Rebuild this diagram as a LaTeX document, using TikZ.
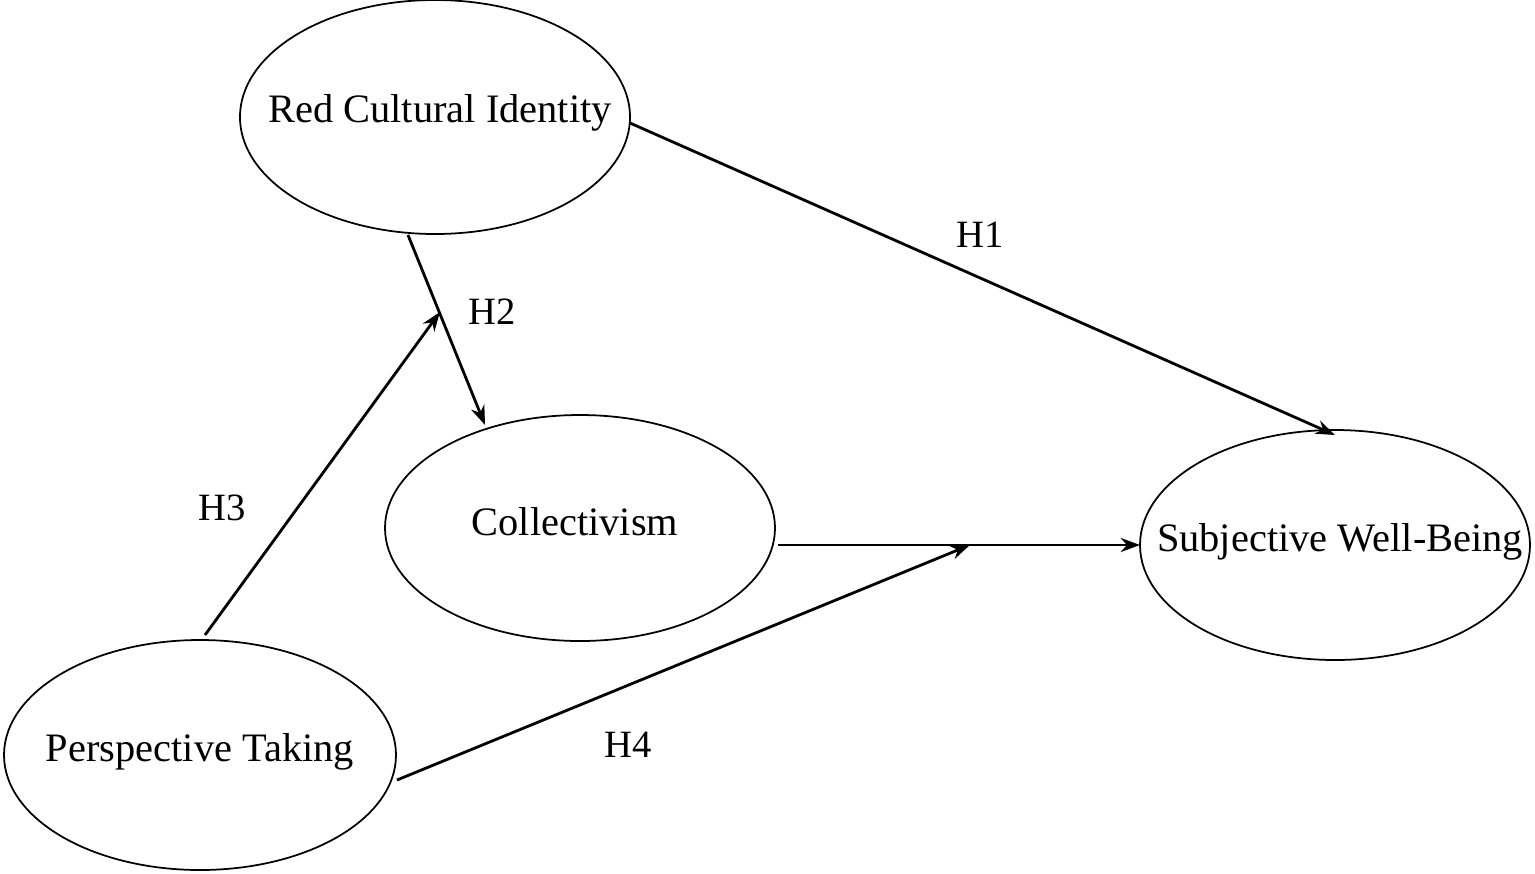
\documentclass[tikz,border=0pt]{standalone}
\usepackage{fontspec}
\setmainfont{Liberation Serif}
\usetikzlibrary{arrows.meta}
\begin{document}
\begin{tikzpicture}[x=0.02cm,y=-0.02cm,
  var/.style={font=\fontsize{23}{27}\selectfont},
  ell/.style={line width=1pt},
  path/.style={line width=1.6pt,-{Stealth[length=11pt,width=8pt]}},
  lab/.style={font=\fontsize{22}{26}\selectfont}]
\useasboundingbox (0,0) rectangle (1535,873);
\draw[ell] (435,117) ellipse [x radius=195, y radius=117];
\draw[ell] (580,528) ellipse [x radius=195, y radius=113];
\draw[ell] (1335,545) ellipse [x radius=195, y radius=115];
\draw[ell] (200,755) ellipse [x radius=196, y radius=115];
\node[var] (rci) at (440,113) {Red Cultural Identity};
\node[var] (col) at (575,522) {Collectivism};
\node[var] (swb) at (1340,542) {Subjective Well-Being};
\node[var] (pt) at (200,752) {Perspective Taking};
\coordinate (a1) at (630,123); \coordinate (b1) at (1335,435);
\coordinate (a2) at (408,235); \coordinate (b2) at (485,425);
\coordinate (a3) at (205,635); \coordinate (b3) at (440,312);
\coordinate (a4) at (778,545); \coordinate (b4) at (1140,545);
\coordinate (a5) at (397,780); \coordinate (b5) at (970,545);
\draw[path] (a1) -- (b1);
\draw[path] (a2) -- (b2);
\draw[path] (a3) -- (b3);
\draw[path] (a4) -- (b4);
\draw[path] (a5) -- (b5);
\node[lab] (h1) at (980,235) {H1};
\node[lab] (h2) at (492,312) {H2};
\node[lab] (h3) at (222,508) {H3};
\node[lab] (h4) at (628,745) {H4};
\end{tikzpicture}
\end{document}
